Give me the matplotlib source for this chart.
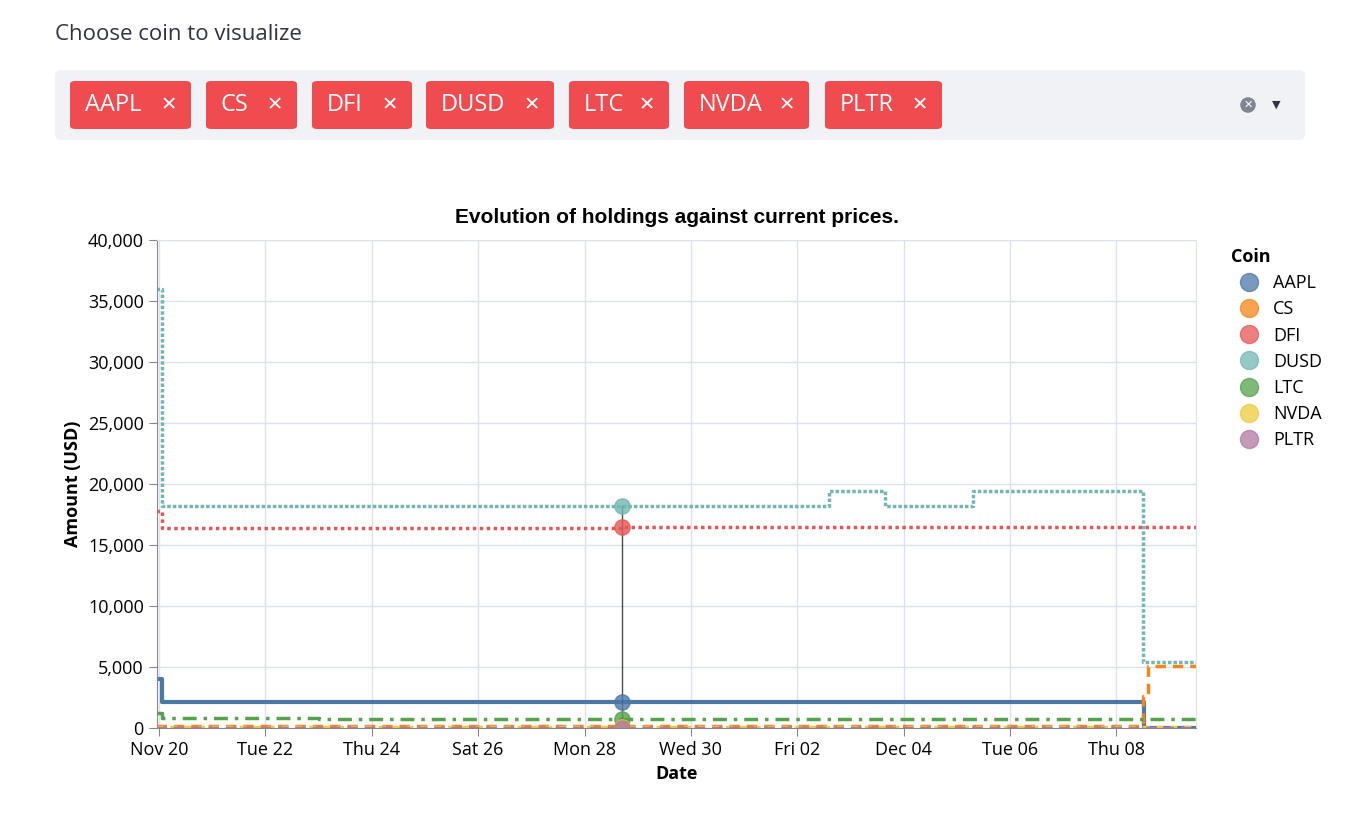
import matplotlib.pyplot as plt
from matplotlib.patches import FancyBboxPatch
from matplotlib.lines import Line2D

plt.rcParams['font.family'] = 'Open Sans'

# days since Nov 20 00:00
tick_days = list(range(0, 20, 2))
tick_labels = ["Nov 20", "Tue 22", "Thu 24", "Sat 26", "Mon 28", "Wed 30",
               "Fri 02", "Dec 04", "Tue 06", "Thu 08"]
coins = ["AAPL", "CS", "DFI", "DUSD", "LTC", "NVDA", "PLTR"]

# step series: change-point days and values
aapl_t = [-0.05, 0.05, 8.7, 18.5, 18.52, 19.5]
aapl_v = [4000, 2100, 2150, 2150, 0, 0]
cs_t = [-0.05, 18.5, 18.6, 19.5]
cs_v = [150, 2600, 5100, 5100]
dfi_t = [-0.05, 0.05, 8.7, 19.5]
dfi_v = [17800, 16400, 16450, 16450]
dusd_t = [-0.05, 0.05, 12.6, 13.65, 15.3, 18.5, 19.5]
dusd_v = [36000, 18200, 19400, 18200, 19400, 5400, 5400]
ltc_t = [-0.05, 0.05, 3.0, 19.5]
ltc_v = [1200, 800, 700, 700]
nvda_t = [-0.05, 19.5]
nvda_v = [100, 100]
pltr_t = [-0.05, 19.5]
pltr_v = [40, 40]

series = [(aapl_t, aapl_v), (cs_t, cs_v), (dfi_t, dfi_v), (dusd_t, dusd_v),
          (ltc_t, ltc_v), (nvda_t, nvda_v), (pltr_t, pltr_v)]
colors = ['#4c78a8', '#f58518', '#e45756', '#72b7b2', '#54a24b', '#eeca3b', '#b279a2']
styles = ['-', (0, (3, 2)), (0, (1, 1)), (0, (1, 0.6)), (0, (4, 2, 1, 2)), (0, (2, 2)), (0, (3, 2))]

hover_day = 8.7
hover_vals = [2100, 100, 16500, 18200, 700, 100, 40]

fig = plt.figure(figsize=(13.58, 8.18), dpi=100)

# widget at the top
fig.text(55 / 1358, 1 - 35 / 818, "Choose coin to visualize", fontsize=16, va='center', color='#31333f')
fig.patches.append(FancyBboxPatch((55 / 1358, 1 - 140 / 818), 1250 / 1358, 70 / 818,
                                  boxstyle="round,pad=0,rounding_size=0.006", transform=fig.transFigure,
                                  facecolor='#f0f2f6', edgecolor='none'))
tag_x = [70, 206, 312, 426, 569, 684, 825]
tag_w = [121, 91, 100, 128, 100, 125, 117]
for c, x, w in zip(coins, tag_x, tag_w):
    fig.patches.append(FancyBboxPatch((x / 1358, 1 - 129 / 818), w / 1358, 48 / 818,
                                      boxstyle="round,pad=0,rounding_size=0.004", transform=fig.transFigure,
                                      facecolor='#f04b4f', edgecolor='none'))
    fig.text((x + 15) / 1358, 1 - 105 / 818, c, fontsize=17, color='white', va='center')
    fig.text((x + w - 22) / 1358, 1 - 105 / 818, "✕", fontsize=14, color='white', va='center', ha='center',
             fontfamily='DejaVu Sans')
fig.text(1248 / 1358, 1 - 105 / 818, "✕", fontsize=8, color='white', va='center', ha='center',
         fontfamily='DejaVu Sans',
         bbox=dict(boxstyle='circle,pad=0.25', facecolor='#808495', edgecolor='none'))
fig.text(1276 / 1358, 1 - 105 / 818, "▼", fontsize=8, color='#31333f', va='center', ha='center',
         fontfamily='DejaVu Sans')

ax = fig.add_axes([157 / 1358, 1 - 728 / 818, 1039 / 1358, 488 / 818])
for (t, v), col, ls, name in zip(series, colors, styles, coins):
    ax.plot(t, v, drawstyle='steps-post', color=col, ls=ls, lw=2.5 if name != 'AAPL' else 3, label=name)

ax.plot([hover_day, hover_day], [0, 18200], color='black', lw=1, alpha=0.7)
for val, col in zip(hover_vals, colors):
    ax.plot(hover_day, val, 'o', ms=11, color=col, alpha=0.8, mec=col)

ax.set_xlim(-0.04, 19.5)
ax.set_ylim(0, 40000)
ax.set_xticks(tick_days)
ax.set_xticklabels(tick_labels)
ax.set_yticks(range(0, 40001, 5000))
ax.set_yticklabels([f"{v:,}" for v in range(0, 40001, 5000)])
ax.tick_params(labelsize=13, color='#888888', length=6)
ax.grid(color='#dde1ee', lw=1)
ax.set_axisbelow(True)
for s in ['top', 'right']:
    ax.spines[s].set_color('#dde1ee')
for s in ['left', 'bottom']:
    ax.spines[s].set_color('#888888')
ax.set_xlabel("Date", fontsize=13, fontweight='bold')
ax.set_ylabel("Amount (USD)", fontsize=13, fontweight='bold')
ax.set_title("Evolution of holdings against current prices.", fontsize=15, fontweight='bold',
             fontfamily='Liberation Sans', pad=12)

handles = [Line2D([], [], marker='o', ls='none', ms=13, color=c, alpha=0.75, mec=c) for c in colors]
leg = fig.legend(handles, coins, loc='upper left', bbox_to_anchor=(1215 / 1358, 1 - 232 / 818),
                 frameon=False, fontsize=13, title="Coin", alignment='left', handletextpad=0.3,
                 labelspacing=0.45, title_fontproperties={'weight': 'bold', 'size': 13})

fig.savefig("out.png", dpi=100)
